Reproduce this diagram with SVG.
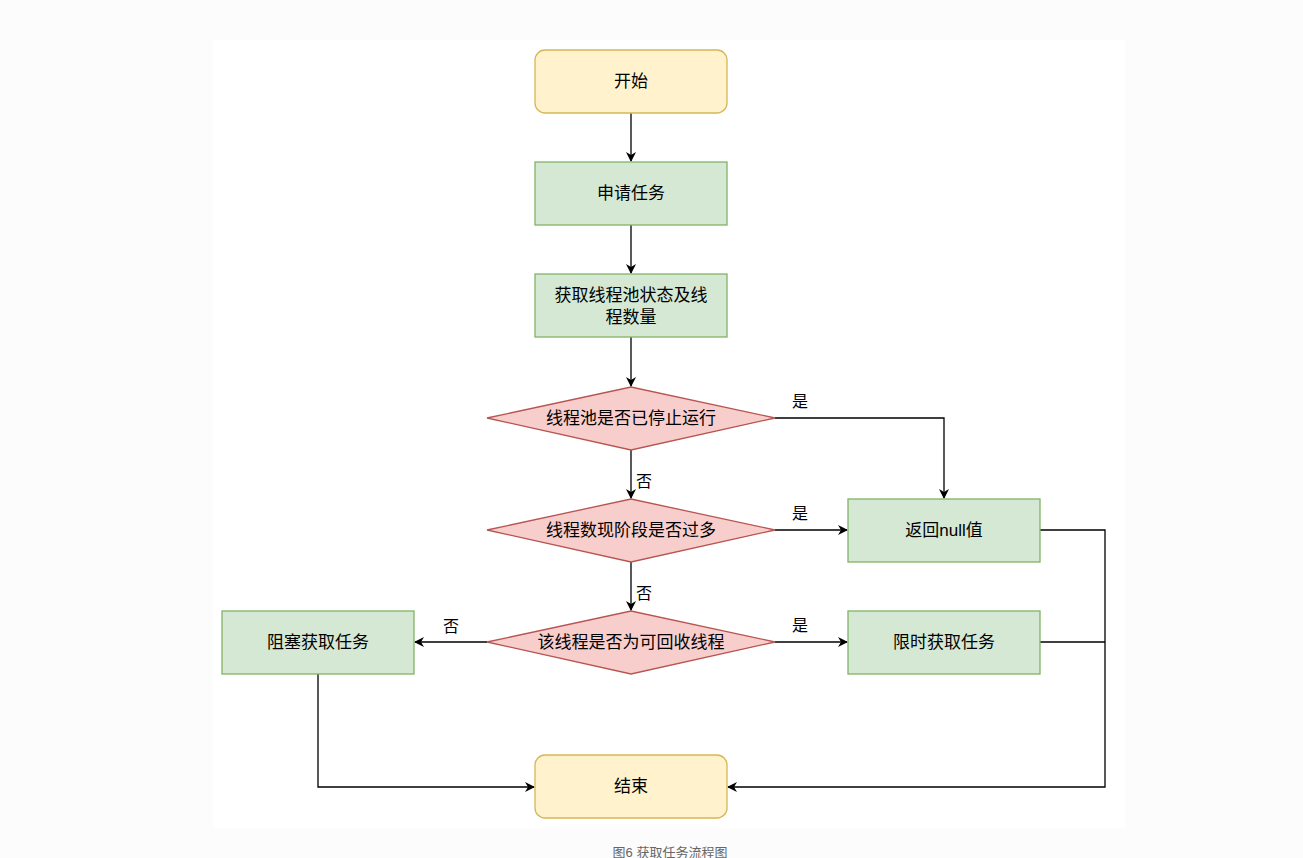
<svg xmlns="http://www.w3.org/2000/svg" width="1303" height="858" viewBox="0 0 1303 858">
<defs>
<marker id="a" viewBox="0 0 10 10" refX="9" refY="5" markerWidth="10" markerHeight="10" markerUnits="userSpaceOnUse" orient="auto"><path d="M0,0 L10,5 L0,10 L3,5 Z" fill="#000"/></marker>
<style>
text{font-family:"Liberation Sans","Noto Sans CJK SC",sans-serif;font-size:17px;fill:#000;text-anchor:middle;dominant-baseline:central}
.y{fill:#fff2cc;stroke:#d6b656;stroke-width:1.3}
.g{fill:#d5e8d4;stroke:#82b366;stroke-width:1.3}
.r{fill:#f8cecc;stroke:#b85450;stroke-width:1.3}
.c path{fill:none;stroke:#000;stroke-width:1.3;marker-end:url(#a)}
.c path.n{marker-end:none}
.l{font-size:16px}
</style>
</defs>
<rect width="1303" height="858" fill="#fcfcfc"/>
<rect x="213" y="40" width="912" height="788" fill="#fff"/>
<g class="c">
<path d="M631,113 V161"/>
<path d="M631,225 V273"/>
<path d="M631,337 V386"/>
<path d="M631,450 V498"/>
<path d="M631,562 V610"/>
<path d="M775,418 H944 V498"/>
<path d="M775,530 H847"/>
<path d="M775,642 H847"/>
<path d="M487,642 H415"/>
<path d="M1040,530 H1105 V787 H728"/>
<path class="n" d="M1040,642 H1105"/>
<path d="M318,674 V787 H534"/>
<text class="l" x="800" y="401">是</text>
<text class="l" x="800" y="513">是</text>
<text class="l" x="800" y="625">是</text>
<text class="l" x="644" y="481">否</text>
<text class="l" x="644" y="593">否</text>
<text class="l" x="451" y="626">否</text>
</g>
<g id="start"><rect class="y" x="535" y="50" width="192" height="63" rx="10"/><text x="631" y="81.5">开始</text></g>
<g id="apply"><rect class="g" x="535" y="162" width="192" height="63"/><text x="631" y="193.5">申请任务</text></g>
<g id="get"><rect class="g" x="535" y="274" width="192" height="63"/><text x="631" y="295">获取线程池状态及线</text><text x="631" y="317">程数量</text></g>
<g id="d1"><path class="r" d="M487,418 L631,387 L775,418 L631,450 Z"/><text x="631" y="418">线程池是否已停止运行</text></g>
<g id="d2"><path class="r" d="M487,530 L631,499 L775,530 L631,562 Z"/><text x="631" y="530">线程数现阶段是否过多</text></g>
<g id="d3"><path class="r" d="M487,642 L631,611 L775,642 L631,674 Z"/><text x="631" y="642">该线程是否为可回收线程</text></g>
<g id="null"><rect class="g" x="848" y="499" width="192" height="63"/><text x="944" y="530.5">返回null值</text></g>
<g id="timed"><rect class="g" x="848" y="611" width="192" height="63"/><text x="944" y="642.5">限时获取任务</text></g>
<g id="block"><rect class="g" x="222" y="611" width="192" height="63"/><text x="318" y="642.5">阻塞获取任务</text></g>
<g id="end"><rect class="y" x="535" y="755" width="192" height="63" rx="10"/><text x="631" y="786.5">结束</text></g>
<text x="670" y="852" style="font-size:13px;fill:#666">图6  获取任务流程图</text>
</svg>
